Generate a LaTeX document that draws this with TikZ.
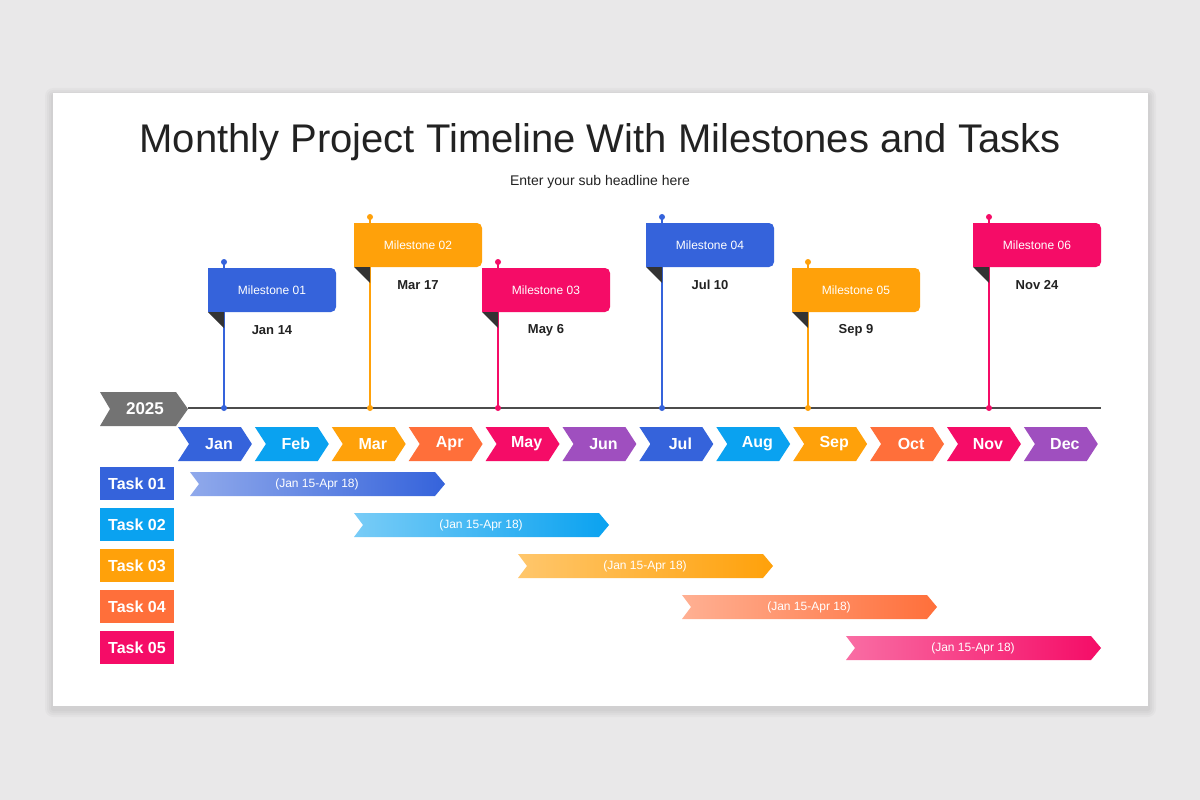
\documentclass[tikz,border=0pt]{standalone}
\usepackage{fontspec}
\setmainfont{Liberation Sans}
\begin{document}
\definecolor{bg}{HTML}{E9E8E9}
\definecolor{cA}{HTML}{3563DB}
\definecolor{cB}{HTML}{0AA2F0}
\definecolor{cC}{HTML}{FFA10A}
\definecolor{cD}{HTML}{FF6F3A}
\definecolor{cE}{HTML}{F50C67}
\definecolor{cF}{HTML}{9F4FBF}
\definecolor{txt}{HTML}{222222}
\begin{tikzpicture}[x=1pt,y=-1pt,
  flagtxt/.style={text=white,font=\fontsize{12}{14}\selectfont},
  datetxt/.style={text=txt,font=\bfseries\fontsize{13}{15}\selectfont},
  monthtxt/.style={text=white,font=\bfseries\fontsize{16}{18}\selectfont},
  barTxt/.style={text=white,font=\fontsize{12}{14}\selectfont},
  pole/.style={line width=1.6pt},
  dot/.style={circle,inner sep=0pt,minimum size=6pt}]
\useasboundingbox (0,0) rectangle (1200,800);
\fill[bg] (0,0) rectangle (1200,800);
\foreach \s in {8,6,4,2}{\fill[black,opacity=0.025,rounded corners=\s pt] (53-\s,93-\s+3) rectangle (1148+\s,706+\s+3);}
\fill[white] (53,93) rectangle (1148,706);
\node[text=txt,font=\fontsize{40}{46}\selectfont] (title) at (600,142) {Monthly Project Timeline With Milestones and Tasks};
\node[text=txt,font=\fontsize{14}{16}\selectfont] (sub) at (600,182) {Enter your sub headline here};
% timeline
\fill[gray!90!black] (100,392) -- (176,392) -- (188,409) -- (176,426) -- (100,426) -- (110,409) -- cycle;
\node[text=white,font=\bfseries\fontsize{17}{19}\selectfont] (year) at (145,409) {2025};
\coordinate (lineS) at (188,408);
\coordinate (lineE) at (1101,408);
\draw[line width=1.5pt,black!70] (lineS) -- (lineE);
% months
\foreach \m/\c [count=\i from 0] in {Jan/cA,Feb/cB,Mar/cC,Apr/cD,May/cE,Jun/cF,Jul/cA,Aug/cB,Sep/cC,Oct/cD,Nov/cE,Dec/cF}{
  \pgfmathsetmacro\L{178+\i*76.9}
  \pgfmathsetmacro\R{\L+76.9-3-11}
  \fill[\c] (\L,427) -- (\R,427) -- (\R+11,444) -- (\R,461) -- (\L,461) -- (\L+11,444) -- cycle;
  \node[monthtxt] (m\i) at (\L+41,444) {\m};
}
% milestones
\foreach \n/\bx/\by/\c/\d [count=\k] in {01/208/268/cA/Jan 14,02/354/223/cC/Mar 17,03/482/268/cE/May 6,04/646/223/cA/Jul 10,05/792/268/cC/Sep 9,06/973/223/cE/Nov 24}{
  \fill[\c,rounded corners=5pt] (\bx,\by) -- (\bx+128,\by) -- (\bx+128,\by+44) -- (\bx,\by+44) [sharp corners] -- cycle;
  \fill[\c] (\bx,\by) rectangle (\bx+20,\by+44);
  \node[flagtxt] (ms\k) at (\bx+64,\by+22) {Milestone \n};
  \node[datetxt] (dt\k) at (\bx+64,\by+62) {\d};
  \node[dot,fill=\c] (top\k) at (\bx+16,\by-6) {};
  \node[dot,fill=\c] (bot\k) at (\bx+16,408) {};
  \draw[\c,pole] (top\k.center) -- (bot\k.center);
  \fill[black!80] (\bx,\by+44) -- (\bx+16,\by+44) -- (\bx+16,\by+60) -- cycle;
}
% tasks
\foreach \t/\c/\lc [count=\k from 0] in {01/cA/cA!55,02/cB/cB!55,03/cC/cC!60,04/cD/cD!55,05/cE/cE!60}{
  \pgfmathsetmacro\Y{467+\k*41}
  \fill[\c] (100,\Y) rectangle (174,\Y+33);
  \node[monthtxt] (tk\k) at (137,\Y+16.5) {Task \t};
  \pgfmathsetmacro\L{190+\k*164}
  \shade[left color=\lc,right color=\c] (\L,\Y+5) -- (\L+245,\Y+5) -- (\L+255,\Y+17) -- (\L+245,\Y+29) -- (\L,\Y+29) -- (\L+9,\Y+17) -- cycle;
  \node[barTxt] (bar\k) at (\L+127,\Y+17) {(Jan 15-Apr 18)};
}
\end{tikzpicture}
\end{document}
